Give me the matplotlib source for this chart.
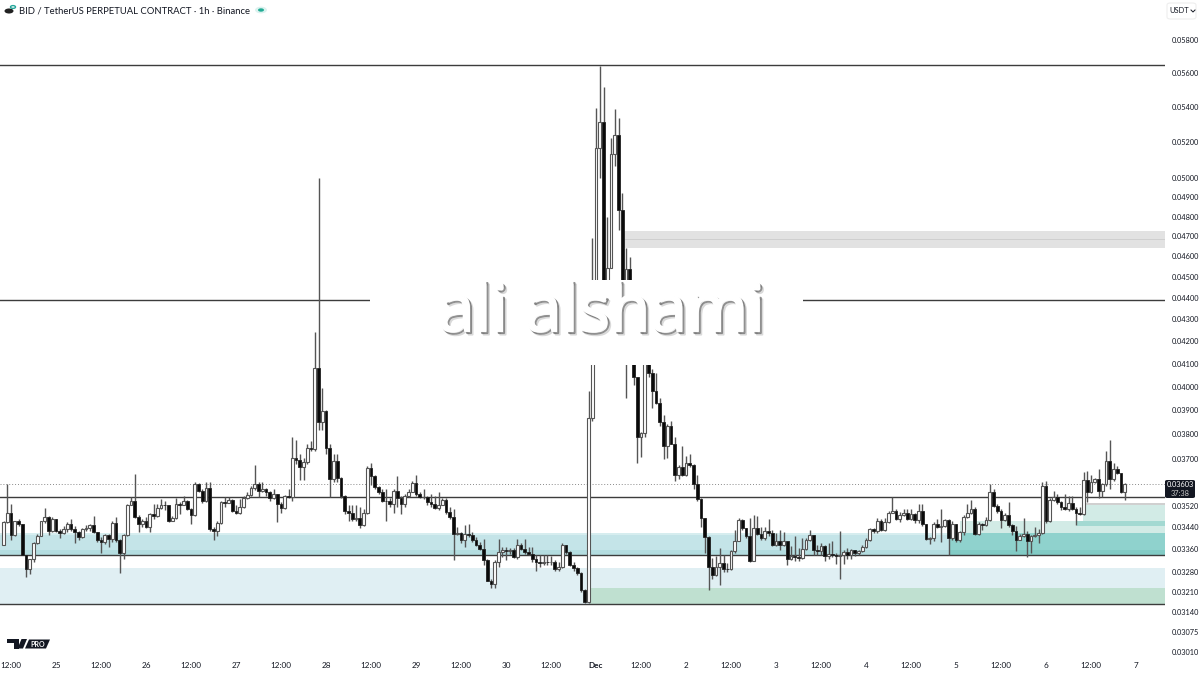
#!/usr/bin/env python3

import numpy as np
from matplotlib import pyplot as plt
from matplotlib import patheffects as pe
from matplotlib.patches import Rectangle, FancyBboxPatch, Circle, Polygon

W, H = 1200, 674
PLOT_W, PLOT_H = 1165, 655

# prices in ticks of 0.00001 USDT, one candle per hour
first_open = 3376
closes = [3459,3494,3410,3462,3453,3340,3288,3324,3384,3407,3462,3477,3427,3472,3428,3420,3432,3453,3434,3422,
 3404,3432,3437,3449,3424,3392,3386,3410,3398,3457,3392,3348,3412,3524,3540,3478,3453,3462,3441,3490,
 3482,3513,3524,3522,3465,3474,3528,3524,3538,3507,3484,3603,3578,3537,3590,3434,3428,3457,3534,3532,
 3543,3501,3494,3516,3549,3562,3590,3605,3578,3584,3571,3550,3565,3528,3513,3556,3552,3706,3696,3671,
 3691,3746,3742,4081,3850,3895,3746,3622,3692,3625,3556,3499,3495,3472,3474,3449,3494,3667,3635,3593,
 3571,3540,3538,3528,3578,3549,3528,3559,3574,3609,3565,3552,3552,3534,3527,3512,3525,3543,3497,3478,
 3416,3420,3392,3416,3410,3394,3376,3362,3320,3249,3238,3314,3350,3356,3352,3358,3332,3376,3362,3350,
 3344,3324,3314,3312,3316,3314,3316,3288,3296,3376,3350,3305,3293,3275,3218,3177,3868,4296,5166,5312,
 4205,4543,5133,5239,4834,4343,4537,4205,4043,3790,3804,4138,4060,3983,3930,3851,3753,3833,3763,3639,
 3669,3639,3686,3676,3603,3546,3474,3405,3295,3268,3298,3312,3291,3289,3353,3389,3468,3437,3407,3318,
 3437,3416,3401,3425,3419,3377,3389,3377,3389,3324,3335,3333,3329,3361,3395,3413,3359,3353,3371,3335,
 3343,3338,3335,3339,3350,3341,3356,3347,3353,3369,3395,3433,3425,3462,3429,3460,3495,3501,3472,3485,
 3495,3472,3489,3467,3501,3451,3396,3400,3454,3442,3444,3467,3400,3453,3393,3421,3480,3492,3510,3416,
 3454,3447,3467,3571,3520,3501,3467,3485,3447,3425,3393,3409,3416,3391,3409,3412,3419,3594,3463,3543,
 3552,3533,3514,3508,3531,3508,3492,3489,3620,3571,3612,3622,3575,3603,3692,3622,3663,3647,3571,3603]
highs = [3462,3603,3528,3464,3472,3454,3340,3326,3386,3416,3465,3512,3482,3477,3472,3434,3445,3459,3469,3445,
 3428,3437,3449,3453,3482,3422,3404,3416,3416,3462,3478,3398,3416,3528,3552,3641,3484,3472,3478,3494,
 3528,3528,3546,3540,3524,3482,3549,3534,3556,3543,3512,3612,3609,3584,3612,3612,3441,3462,3537,3552,
 3552,3546,3524,3546,3556,3571,3596,3677,3612,3612,3587,3578,3584,3565,3534,3562,3584,3791,3777,3720,
 3705,3760,3775,4241,5000,3994,3902,3760,3720,3720,3630,3560,3522,3522,3522,3516,3507,3674,3684,3637,
 3596,3586,3584,3549,3584,3635,3556,3565,3584,3615,3637,3571,3584,3559,3565,3559,3574,3549,3549,3516,
 3509,3441,3424,3447,3453,3422,3404,3386,3398,3324,3255,3320,3398,3368,3368,3364,3364,3398,3384,3398,
 3368,3368,3338,3338,3338,3338,3336,3320,3316,3384,3376,3352,3314,3296,3279,3221,3983,4691,5392,5638,
 5515,4798,5222,5387,5335,4923,4641,4597,4182,4036,3810,4180,4180,4075,4058,3951,3881,3843,3854,3790,
 3676,3755,3714,3720,3682,3639,3549,3474,3407,3329,3335,3365,3341,3312,3359,3431,3474,3471,3437,3474,
 3486,3482,3443,3443,3471,3431,3419,3429,3422,3385,3371,3407,3365,3401,3401,3429,3413,3377,3381,3374,
 3383,3389,3347,3425,3359,3365,3361,3359,3359,3374,3401,3437,3437,3474,3470,3476,3501,3555,3508,3498,
 3508,3508,3510,3495,3527,3527,3454,3406,3460,3470,3510,3472,3470,3463,3453,3425,3485,3527,3543,3514,
 3460,3456,3480,3603,3586,3527,3508,3495,3536,3451,3444,3416,3476,3425,3412,3442,3432,3612,3616,3548,
 3578,3565,3540,3565,3559,3559,3517,3514,3650,3654,3637,3628,3660,3609,3732,3777,3686,3673,3644,3609]
lows = [3376,3457,3392,3407,3445,3338,3261,3273,3316,3380,3407,3457,3410,3422,3422,3400,3416,3422,3428,3384,
 3392,3400,3427,3428,3420,3386,3348,3380,3368,3388,3388,3276,3324,3407,3522,3474,3422,3441,3437,3422,
 3472,3478,3509,3504,3459,3462,3469,3490,3522,3504,3453,3482,3571,3532,3534,3428,3394,3407,3453,3516,
 3534,3497,3490,3490,3512,3546,3559,3581,3552,3574,3559,3540,3546,3459,3494,3507,3549,3540,3680,3619,
 3620,3680,3735,3735,3818,3820,3720,3554,3610,3610,3550,3490,3465,3465,3465,3437,3445,3490,3600,3586,
 3565,3534,3465,3516,3494,3516,3490,3516,3552,3571,3559,3549,3546,3522,3516,3507,3504,3522,3490,3472,
 3320,3410,3384,3369,3404,3388,3371,3356,3305,3246,3223,3223,3296,3332,3320,3344,3329,3326,3356,3344,
 3338,3316,3284,3296,3305,3305,3305,3281,3284,3293,3344,3300,3284,3267,3209,3172,3172,3854,4290,5000,
 4190,4190,4540,5067,4732,4330,3951,4190,4007,3686,3708,3790,4043,3909,3927,3833,3701,3704,3760,3617,
 3624,3636,3636,3669,3584,3540,3443,3347,3216,3255,3266,3235,3278,3278,3287,3347,3389,3431,3401,3314,
 3318,3413,3395,3395,3407,3371,3371,3356,3371,3304,3322,3318,3318,3324,3356,3389,3341,3341,3341,3318,
 3324,3333,3306,3255,3306,3326,3326,3335,3341,3350,3365,3389,3419,3419,3425,3425,3456,3492,3467,3460,
 3482,3467,3467,3456,3456,3444,3393,3378,3391,3438,3387,3442,3340,3393,3387,3387,3412,3476,3489,3412,
 3412,3429,3444,3463,3514,3495,3438,3463,3442,3412,3353,3393,3406,3332,3345,3406,3381,3416,3456,3460,
 3540,3527,3505,3504,3501,3504,3447,3485,3485,3536,3568,3607,3548,3552,3597,3584,3616,3641,3568,3543]

# x axis, hours counted from 25 Nov 00:00
first_hour = -14
x_tick_hours = [-12, 0, 12, 24, 36, 48, 60, 72, 84, 96, 108, 120, 132, 144, 156, 168, 180, 192, 204, 216, 228, 240, 252, 264, 276, 288]
x_tick_labels = ['12:00', '25', '12:00', '26', '12:00', '27', '12:00', '28', '12:00', '29', '12:00', '30', '12:00',
                 'Dec', '12:00', '2', '12:00', '3', '12:00', '4', '12:00', '5', '12:00', '6', '12:00', '7']

y_ticks = [0.058, 0.056, 0.054, 0.052, 0.050, 0.049, 0.048, 0.047, 0.046, 0.045, 0.044, 0.043, 0.042, 0.041, 0.040,
           0.039, 0.038, 0.037, 0.0352, 0.0344, 0.0336, 0.0328, 0.0321, 0.0314, 0.03075, 0.0301]

last_price = 0.03603
level_lines = [0.05644, 0.04389, 0.03554, 0.03341, 0.03169]
grey_zone_mid = 0.04688

# zones: low, high, start hour, colour
zones = [
    (0.03341, 0.03420, -15, '#c4e4e8'),
    (0.03410, 0.03420, -15, '#d6edef'),
    (0.03341, 0.03358, -15, '#b4dde0'),
    (0.03169, 0.03293, -15, '#e0eff3'),
    (0.03169, 0.03222, 142.4, '#bfe0d0'),
    (0.04641, 0.04726, 150.9, '#e2e2e2'),
    (0.03341, 0.03420, 238.4, '#8fd2cd'),
    (0.03341, 0.03358, 238.4, '#82cbc5'),
    (0.03420, 0.03465, 241, '#d2ebe6'),
    (0.03465, 0.03524, 273.9, '#d2ebe6'),
    (0.03445, 0.03465, 272.3, '#a3d9d2'),
    (0.03524, 0.03532, 273.9, '#d0d0d0'),
]

closes = np.array(closes) / 1e5
highs = np.array(highs) / 1e5
lows = np.array(lows) / 1e5
opens = np.concatenate(([first_open / 1e5], closes[:-1]))
hours = first_hour + np.arange(len(closes))

plt.rcParams['font.family'] = ['Lato', 'DejaVu Sans']
fig = plt.figure(figsize=(W / 100, H / 100), dpi=100)
ax = fig.add_axes([0, (H - PLOT_H) / H, PLOT_W / W, PLOT_H / H])
ax.set_yscale('log')
ax.set_xlim((0 - 56) / 3.75, (PLOT_W - 56) / 3.75)
ax.set_ylim(0.0300, 0.06054)

for lo, hi, start, colour in zones:
    ax.add_patch(Rectangle((start, lo), 400, hi - lo, facecolor=colour, edgecolor='none', zorder=1))
ax.plot([150.9, 300], [grey_zone_mid, grey_zone_mid], color='#cfcfcf', linewidth=0.7, zorder=1.5)

for level in level_lines:
    ax.axhline(level, color='#3c3c3c', linewidth=1, zorder=2)
ax.axhline(last_price, color='#8a8a8a', linewidth=0.7, linestyle=(0, (1, 2)), zorder=2)

ax.vlines(hours, lows, highs, color='#555555', linewidth=1.0, zorder=3)
bottoms = np.minimum(opens, closes)
tops = np.maximum(opens, closes)
up = closes >= opens
ax.bar(hours[up], tops[up] - bottoms[up], bottom=bottoms[up], width=0.76, color='white', edgecolor='#555555', linewidth=0.8, zorder=4)
ax.bar(hours[~up], tops[~up] - bottoms[~up], bottom=bottoms[~up], width=0.76, color='#0a0a0a', edgecolor='#222222', linewidth=0.6, zorder=4)

ax.yaxis.tick_right()
ax.set_yticks(y_ticks)
ax.set_yticklabels(['%.5f' % v for v in y_ticks])
ax.minorticks_off()
ax.set_xticks(x_tick_hours)
ax.set_xticklabels(x_tick_labels)
ax.tick_params(axis='x', length=0, labelsize=5.9, labelcolor='#131722', pad=5)
ax.tick_params(axis='y', length=0, labelsize=5.3, labelcolor='#131722', pad=5)
for lab, text in zip(ax.get_xticklabels(), x_tick_labels):
    if text == 'Dec':
        lab.set_fontweight('bold')
for side in ax.spines:
    ax.spines[side].set_visible(False)


def fx(px):
    return px / W


def fy(py):
    return 1 - py / H


# white box behind the watermark
fig.add_artist(Rectangle((fx(370), fy(365)), fx(433), 85 / H, facecolor='white', edgecolor='none', transform=fig.transFigure, zorder=5))
name = fig.text(fx(601), fy(314), 'ali alshami', color='white', fontsize=47.5, ha='center', va='center', zorder=6,
                family=['Open Sans', 'DejaVu Sans'])
name.set_path_effects([pe.Stroke(offset=(2.6, -2.6), linewidth=1.4, foreground='#555555', alpha=0.22),
                       pe.Stroke(offset=(1.5, -1.5), linewidth=1.4, foreground='#222222', alpha=0.5),
                       pe.Stroke(linewidth=1.4, foreground='white'),
                       pe.Normal()])

# header
fig.text(fx(19), fy(10.5), 'BID / TetherUS PERPETUAL CONTRACT · 1h · Binance', fontsize=6.85, color='#131722', va='center', zorder=6)
fig.add_artist(Circle((fx(9), fy(11)), 4.5 / W, facecolor='#222222', edgecolor='none', transform=fig.transFigure, zorder=6))
fig.add_artist(Circle((fx(13), fy(7)), 2.5 / W, facecolor='white', edgecolor='#26a69a', linewidth=1, transform=fig.transFigure, zorder=7))
fig.add_artist(Circle((fx(261), fy(10)), 6 / W, facecolor='#dcf2ef', edgecolor='none', transform=fig.transFigure, zorder=6))
fig.add_artist(Circle((fx(261), fy(10)), 3 / W, facecolor='#22ab94', edgecolor='none', transform=fig.transFigure, zorder=7))

# currency button
fig.add_artist(FancyBboxPatch((fx(1167), fy(19)), fx(29), 16 / H, boxstyle='round,pad=0,rounding_size=0.003', facecolor='white', edgecolor='#eeeeee', linewidth=0.8, transform=fig.transFigure, zorder=6))
fig.text(fx(1169), fy(10.5), 'USDT', fontsize=5.4, color='#131722', va='center', zorder=7)
fig.add_artist(plt.Line2D([fx(1191), fx(1193), fx(1195)], [fy(10), fy(12), fy(10)], color='#131722', linewidth=0.7, zorder=7))

# last price label
fig.add_artist(FancyBboxPatch((fx(1165), fy(498)), fx(30), 18 / H, boxstyle='round,pad=0,rounding_size=0.002', facecolor='#131722', edgecolor='none', transform=fig.transFigure, zorder=6))
fig.text(fx(1180), fy(484.5), '0.03603', fontsize=5.3, color='white', va='center', ha='center', zorder=7)
fig.text(fx(1180), fy(493.5), '37:38', fontsize=5.3, color='#c8c8c8', va='center', ha='center', zorder=7)

# TV PRO logo
logo_parts = [
    [(7, 639), (19, 639), (19, 648.5), (14, 648.5), (14, 643), (7, 643)],
    [(21.5, 639), (27, 639), (23, 648.5), (17.5, 648.5)],
    [(29, 639.5), (50, 639.5), (46, 648.5), (25, 648.5)],
]
for part in logo_parts:
    fig.add_artist(Polygon([(fx(a), fy(b)) for a, b in part], closed=True, facecolor='#131722', edgecolor='none', transform=fig.transFigure, zorder=6))
fig.text(fx(37.5), fy(644.2), 'PRO', fontsize=5, fontweight='bold', color='white', va='center', ha='center', zorder=7)

plt.savefig('out.png', dpi=100)
print(len(closes), len(highs), len(lows))
